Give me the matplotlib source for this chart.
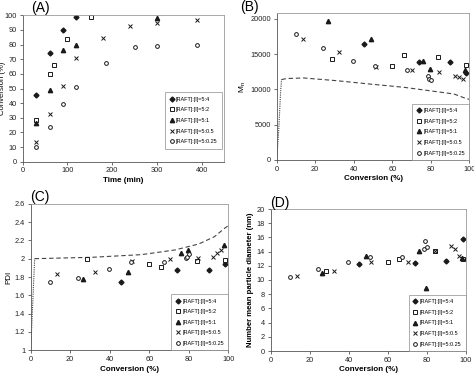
import numpy as np
import matplotlib
matplotlib.use("Agg")
import matplotlib.pyplot as plt

# series labels / markers
labels = ["[RAFT]:[I]=5:4", "[RAFT]:[I]=5:2", "[RAFT]:[I]=5:1",
          "[RAFT]:[I]=5:0.5", "[RAFT]:[I]=5:0.25"]

# time (min)
time_54 = [30, 60, 90, 120]
time_52 = [30, 60, 70, 100, 152]
time_51 = [30, 60, 90, 120, 300]
time_505 = [30, 60, 90, 120, 180, 240, 300, 390]
time_5025 = [30, 60, 90, 120, 186, 251, 300, 390]

# conversion (%)
conv_54 = [45.5, 74, 90, 98.5]
conv_52 = [28.5, 60, 66, 84, 98.5]
conv_51 = [26.5, 49, 76, 79.5, 98]
conv_505 = [13.5, 32.5, 51.5, 70.5, 84.5, 92.5, 94.5, 96.5]
conv_5025 = [10, 24, 39.5, 51, 67.5, 78.5, 79, 80]

# Mn
mn_54 = [16450, 13900, 13950, 12400]
mn_52 = [14330, 13380, 14940, 14610, 13430]
mn_51 = [19720, 17160, 14000, 12950, 12800]
mn_505 = [17210, 15370, 13200, 12770, 12430, 11960, 11720, 11540]
mn_5025 = [17920, 15930, 14000, 13300, 12770, 11910, 11490, 11390]

# PDI
pdi_54 = [1.74, 1.88, 1.88, 1.94]
pdi_52 = [2.00, 1.94, 1.91, 1.98, 1.99]
pdi_51 = [1.78, 1.85, 2.06, 2.09, 2.15]
pdi_505 = [1.83, 1.86, 1.98, 2.00, 2.01, 2.02, 2.06, 2.09]
pdi_5025 = [1.75, 1.79, 1.89, 1.96, 1.96, 2.01, 2.02, 2.05]

# number mean particle diameter (nm)
dia_54 = [12.2, 12.4, 12.7, 15.8]
dia_52 = [11.3, 12.6, 13.0, 14.1, 12.95]
dia_51 = [11.0, 13.4, 14.05, 8.85, 13.1]
dia_505 = [10.5, 11.3, 12.6, 12.5, 14.1, 14.8, 14.3, 13.4]
dia_5025 = [10.4, 11.6, 12.6, 13.2, 13.2, 14.4, 15.5, 14.6]

# theoretical curves
th_mn_conv_dot = [0, 1.0, 2.0, 2.5]
th_mn_dot = [0, 4000, 9500, 11400]
th_mn_conv = [2.5, 5, 14, 31, 48, 66, 83, 92, 98, 100]
th_mn = [11400, 11550, 11630, 11250, 10780, 10310, 9690, 9360, 8750, 8600]

th_pdi_conv_dot = [0, 1.0, 2.0]
th_pdi_dot = [1.0, 1.5, 2.0]
th_pdi_conv = [2, 31, 56, 73, 85, 93, 98, 100]
th_pdi = [2.0, 2.015, 2.044, 2.095, 2.16, 2.24, 2.33, 2.36]

markers = [dict(marker="D", ms=2.5, mfc="#1a1a1a", mec="#1a1a1a"),
           dict(marker="s", ms=2.7, mfc="white", mec="#1a1a1a", mew=0.7),
           dict(marker="^", ms=3.1, mfc="#1a1a1a", mec="#1a1a1a"),
           dict(marker="x", ms=3.1, mec="#1a1a1a", mew=0.7),
           dict(marker="o", ms=2.7, mfc="white", mec="#1a1a1a", mew=0.7)]

W, H = 474, 378
fig = plt.figure(figsize=(W / 100, H / 100), dpi=100)
plt.rcParams["font.family"] = "Liberation Sans"


def make_ax(l, r, t, b):
    ax = fig.add_axes([l / W, 1 - b / H, (r - l) / W, (b - t) / H])
    for s in ["top", "right"]:
        ax.spines[s].set_color("#9a9a9a")
        ax.spines[s].set_linewidth(0.6)
    for s in ["left", "bottom"]:
        ax.spines[s].set_color("#555555")
        ax.spines[s].set_linewidth(0.6)
    ax.tick_params(direction="out", length=2, width=0.5, labelsize=5.3,
                   pad=2, colors="#333333", labelcolor="#222222")
    return ax


def scatter(ax, xs, ys, anchor=(1, 0)):
    for x, y, m, lab in zip(xs, ys, markers, labels):
        ax.plot(x, y, ls="none", label=lab, **m)
    leg = ax.legend(loc="lower right", bbox_to_anchor=anchor, fontsize=4.0,
                    frameon=True, fancybox=False, borderpad=0.8,
                    labelspacing=1.0, handletextpad=0.35, handlelength=0.8,
                    borderaxespad=0)
    leg.get_frame().set_edgecolor("#888888")
    leg.get_frame().set_linewidth(0.6)


convs = [conv_54, conv_52, conv_51, conv_505, conv_5025]

# (A)
axA = make_ax(22.7, 224.1, 15.3, 161.7)
scatter(axA, [time_54, time_52, time_51, time_505, time_5025], convs,
        anchor=(0.99, 0.09))
axA.set_xlim(0, 450)
axA.set_ylim(0, 100)
axA.set_xticks([0, 100, 200, 300, 400])
axA.set_yticks(range(0, 101, 10))
axA.set_xlabel("Time (min)", fontsize=5.8, fontweight="bold", labelpad=2)
axA.set_ylabel("Conversion (%)", fontsize=5.6)
axA.yaxis.set_label_coords(-17 / 201.4, 0.5)
fig.text(31 / W, 1 - 8 / H, "(A)", fontsize=10, va="center")

# (B)
axB = make_ax(276.7, 469.3, 13.3, 160)
axB.plot(th_mn_conv_dot, th_mn_dot, ls=(0, (1, 1)), color="#444444", lw=0.8)
axB.plot(th_mn_conv, th_mn, ls=(0, (4, 2.5)), color="#444444", lw=0.8)
scatter(axB, convs, [mn_54, mn_52, mn_51, mn_505, mn_5025])
axB.set_xlim(0, 100)
axB.set_ylim(0, 20800)
axB.set_xticks(range(0, 101, 20))
axB.set_yticks(range(0, 20001, 5000))
axB.set_xlabel("Conversion (%)", fontsize=5.8, fontweight="bold", labelpad=2)
axB.set_ylabel("M$_\\mathregular{n}$", fontsize=6, labelpad=2)
fig.text(240 / W, 1 - 7 / H, "(B)", fontsize=10, va="center")

# (C)
axC = make_ax(30.7, 228.3, 203.7, 350.3)
axC.plot(th_pdi_conv_dot, th_pdi_dot, ls=(0, (1, 1)), color="#444444", lw=0.8)
axC.plot(th_pdi_conv, th_pdi, ls=(0, (4, 2.5)), color="#444444", lw=0.8)
scatter(axC, convs, [pdi_54, pdi_52, pdi_51, pdi_505, pdi_5025])
axC.set_xlim(0, 100)
axC.set_ylim(1, 2.6)
axC.set_xticks(range(0, 101, 20))
axC.set_yticks(np.arange(1, 2.61, 0.2))
axC.set_yticklabels(["1", "1.2", "1.4", "1.6", "1.8", "2", "2.2", "2.4", "2.6"])
axC.set_xlabel("Conversion (%)", fontsize=5.8, fontweight="bold", labelpad=2)
axC.set_ylabel("PDI", fontsize=5.8, labelpad=2)
fig.text(30 / W, 1 - 197 / H, "(C)", fontsize=10, va="center")

# (D)
axD = make_ax(270.7, 465.7, 209, 351)
scatter(axD, convs, [dia_54, dia_52, dia_51, dia_505, dia_5025])
axD.set_xlim(0, 100)
axD.set_ylim(0, 20)
axD.set_xticks(range(0, 101, 20))
axD.set_yticks(range(0, 21, 2))
axD.set_xlabel("Conversion (%)", fontsize=5.8, fontweight="bold", labelpad=2)
axD.set_ylabel("Number mean particle diameter (nm)", fontsize=5.6,
               fontweight="bold", labelpad=2)
fig.text(270 / W, 1 - 203 / H, "(D)", fontsize=10, va="center")

fig.savefig("out.png", dpi=100)
